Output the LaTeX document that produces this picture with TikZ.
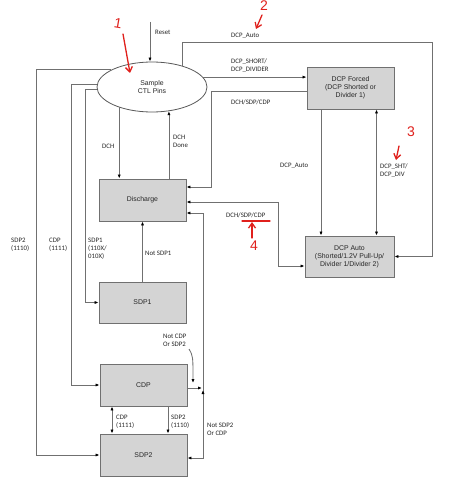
\documentclass[tikz,border=0pt]{standalone}
\usepackage{fontspec}
\setmainfont{Liberation Sans}
\newfontfamily\lblfont{Carlito}
\usetikzlibrary{arrows.meta,shapes.geometric,calc}
\definecolor{boxfill}{HTML}{D4D4D4}
\definecolor{linegray}{HTML}{707070}
\definecolor{annred}{HTML}{E0201C}
\begin{document}
\begin{tikzpicture}[x=1pt,y=-1pt,
  state/.style={draw=linegray, line width=0.9pt, fill=boxfill, minimum width=87pt, minimum height=42pt,
    font=\fontsize{6.9}{8}\selectfont, align=center, text=black!85, inner sep=0},
  conn/.style={draw=linegray, line width=0.85pt},
  arr/.style={conn, -{Latex[length=4pt,width=3.2pt,color=black]}},
  arr2/.style={conn, {Latex[length=4pt,width=3.2pt,color=black]}-{Latex[length=4pt,width=3.2pt,color=black]}},
  lbl/.style={font=\lblfont\fontsize{6.8}{8}\selectfont, align=left, anchor=west, inner sep=0, text=black!85},
  ann/.style={draw=annred, line width=1.3pt, line cap=round},
  annarr/.style={ann, -{Straight Barb[length=5pt,width=7pt]}},
  annnum/.style={text=annred, font=\fontsize{14}{14}\selectfont, inner sep=0}
]
\fill[white] (0,0) rectangle (474,481);
\useasboundingbox (0,0) rectangle (474,481);

% states
\node[ellipse, draw=black!65, line width=0.8pt, fill=white, minimum width=110pt, minimum height=50pt,
  inner sep=0, align=center, font=\fontsize{6.9}{8}\selectfont, text=black!85] (ell) at (152,87) {Sample\\CTL Pins};
\node[state] (dis) at (142.5,200) {Discharge};
\node[state, minimum height=41pt] (sdp1) at (142.5,302.5) {SDP1};
\node[state] (cdp) at (143.5,385) {CDP};
\node[state] (sdp2) at (143.5,455) {SDP2};
\node[state] (forced) at (350.5,88) {DCP Forced\\(DCP Shorted or\\Divider 1)};
\node[state, minimum width=89pt, minimum height=41pt] (auto) at (349.5,256.5) {DCP Auto\\(Shorted/1.2V Pull-Up/\\Divider 1/Divider 2)};

% connectors
\coordinate (rst) at (150,22);
\draw[arr] (rst) -- (rst |- ell.north);
\coordinate (cTR) at (432,42);
\draw[arr] (ell.35) |- (cTR) |- (auto.east);
\draw[arr] (ell.11) -- (ell.11 -| forced.west);
\draw[arr] ([yshift=-3pt]forced.west) -| ([yshift=13pt,xshift=25pt]dis.east) -- ([yshift=13pt]dis.east);
\draw[arr] (ell.212) -- (ell.212 |- dis.north);
\draw[arr] (ell.305 |- dis.north) -- (ell.305);
\draw[arr] ([xshift=-29.5pt]forced.south) -- ([xshift=-29.5pt]forced.south |- auto.north);
\draw[arr2] ([xshift=26pt]forced.south) -- ([xshift=26pt]forced.south |- auto.north);
\coordinate (cM) at (278,202);
\draw[arr2] (dis.east |- cM) -- (cM) |- ([yshift=-9.5pt]auto.west);
\draw[arr] (sdp1.north) -- (dis.south);
\draw[arr] (ell.183) -| ([xshift=-13pt]sdp1.west) -- (sdp1.west);
\draw[arr] (ell.177) -| ([xshift=-28pt]cdp.west) -- (cdp.west);
\draw[arr] (ell.157) -| ([xshift=-63pt]sdp2.west) -- (sdp2.west);
\draw[arr2] ([xshift=-31.5pt]cdp.south) -- ([xshift=-31.5pt]sdp2.north);
\draw[arr] ([xshift=24.5pt]cdp.south) -- ([xshift=24.5pt]sdp2.north);
\draw[arr2] ([yshift=-13pt]dis.east) -| ([xshift=16pt,yshift=-3pt]sdp2.east) -- ([yshift=-3pt]sdp2.east);
\coordinate (jn) at (202,388);
\draw[arr] ([yshift=-3pt]cdp.east) -- (jn);
\draw[arr] (203,398) -- (203,390);
\coordinate (cv1) at (189,349);
\coordinate (cv2) at (193,383);
\draw[arr] (cv1) .. controls (193,356) .. (cv2);

% labels
\node[lbl] (lReset) at (155,32) {Reset};
\node[lbl] (lAuto1) at (231,36) {DCP\_Auto};
\node[lbl] (lShort) at (231,66) {DCP\_SHORT/\\DCP\_DIVIDER};
\node[lbl] (lDsc1) at (231,102) {DCH/SDP/CDP};
\node[lbl] (lDch) at (102,146) {DCH};
\node[lbl] (lDone) at (173,141) {DCH\\Done};
\node[lbl] (lAuto2) at (280,166) {DCP\_Auto};
\node[lbl] (lSht) at (380,170.5) {DCP\_SHT/\\DCP\_DIV};
\node[lbl] (lDsc2) at (226,215) {DCH/SDP/CDP};
\node[lbl] (lS2a) at (11,245) {SDP2\\(1110)};
\node[lbl] (lCa) at (49,245) {CDP\\(1111)};
\node[lbl] (lS1) at (88,249) {SDP1\\(110X/\\010X)};
\node[lbl] (lN1) at (145,253) {Not SDP1};
\node[lbl] (lNC) at (163,340.5) {Not CDP\\Or SDP2};
\node[lbl] (lCb) at (116,422) {CDP\\(1111)};
\node[lbl] (lS2b) at (171,422) {SDP2\\(1110)};
\node[lbl] (lNS) at (207,429.5) {Not SDP2\\Or CDP};

% red annotations
\node[annnum, rotate=-10] (n1) at (118,23) {1};
\draw[annarr] (123,34) -- (130,73);
\node[annnum] (n2) at (264,6) {2};
\draw[annarr] (262,15) -- (256,29);
\node[annnum] (n3) at (411,132) {3};
\draw[annarr] (399,146) -- (396,160);
\draw[ann] (242,221) -- (270,221);
\draw[annarr] (252,238) -- (252,222);
\node[annnum] (n4) at (254,246) {4};
\end{tikzpicture}
\end{document}
